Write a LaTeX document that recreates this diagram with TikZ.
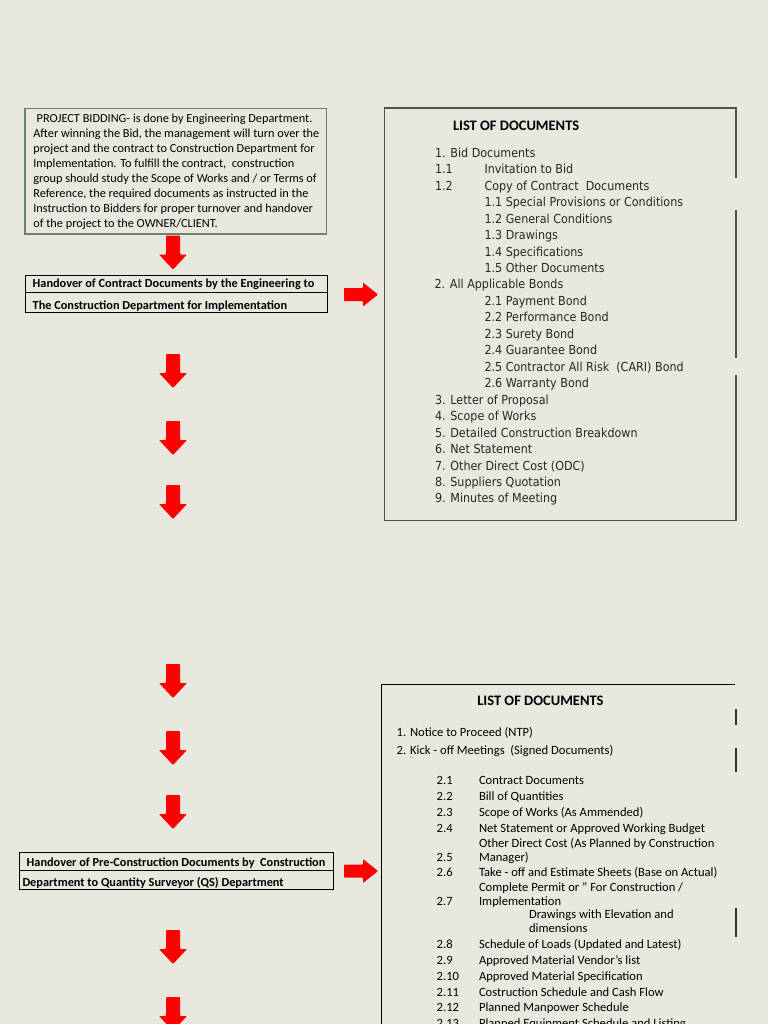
\documentclass[tikz,border=0pt]{standalone}
\usepackage{fontspec}
\setmainfont{Carlito}
\newfontfamily\tah[FakeStretch=0.9]{DejaVu Sans}
\definecolor{bgc}{RGB}{233,232,223}
\definecolor{boxgreen}{RGB}{104,132,104}
\definecolor{boxgray}{RGB}{80,80,78}
\begin{document}
\begin{tikzpicture}[x=1pt,y=-1pt,
  t/.style={anchor=base west,inner sep=0pt,outer sep=0pt},
  intro/.style={t,font=\fontsize{12.3}{14}\selectfont},
  hand/.style={t,font=\fontsize{12.3}{14}\selectfont\bfseries},
  ttl/.style={t,font=\fontsize{14.5}{16}\selectfont\bfseries},
  la/.style={t,font=\tah\fontsize{12.4}{14}\selectfont,text=black!85},
  lb/.style={t,font=\fontsize{12.6}{14}\selectfont},
  downarrow/.pic={\fill[red,rounded corners=0.8pt] (-7,0) -- (7,0) -- (7,19) -- (14,19) -- (0,34) -- (-14,19) -- (-7,19) -- cycle;},
  rightarrow/.pic={\fill[red,rounded corners=0.8pt] (0,-6.5) -- (19,-6.5) -- (19,-12) -- (34,0) -- (19,12) -- (19,6.5) -- (0,6.5) -- cycle;}
]
\useasboundingbox (0,0) rectangle (768,1024);
\fill[bgc] (0,0) rectangle (768,1024);

% ---- intro box
\draw[boxgreen,line width=1.1pt] (25,108.5) rectangle (326.7,234);
\node[intro] (p1) at (36.7,123) {PROJECT BIDDING- is done by Engineering Department.};
\node[intro] (p2) at (33.3,138) {After winning the Bid, the management will turn over the};
\node[intro] (p3) at (33.3,153) {project and the contract to Construction Department for};
\node[intro] (p4) at (33.3,168) {Implementation. To fulfill the contract,\ \ construction};
\node[intro] (p5) at (33.3,183) {group should study the Scope of Works and / or Terms of};
\node[intro] (p6) at (33.3,198) {Reference, the required documents as instructed in the};
\node[intro] (p7) at (33.3,212.7) {Instruction to Bidders for proper turnover and handover};
\node[intro] (p8) at (33.3,227.5) {of the project to the OWNER/CLIENT.};

% ---- handover box 1
\draw[black,line width=0.8pt] (25,275) rectangle (327,312.5);
\draw[black,line width=0.8pt] (25,292) -- (327,292);
\node[hand] (h1) at (32.7,287.7) {Handover of Contract Documents by the Engineering to};
\node[hand] (h2) at (32.7,309) {The Construction Department for Implementation};

% ---- list box 1
\draw[boxgray,line width=1.2pt] (736,178) -- (736,108) -- (384.5,108) -- (384.5,520.8) -- (736,520.8) -- (736,375);
\draw[boxgray,line width=1.2pt] (736,210) -- (736,358);
\node[ttl] (l1t) at (453,130.7) {LIST OF DOCUMENTS};
\foreach \i/\x/\s [count=\k] in {
  0/435/{1. Bid Documents},
  1/435/{1.1}, 1/484.5/{Invitation to Bid},
  2/435/{1.2}, 2/484.5/{Copy of Contract\ \ Documents},
  3/484.5/{1.1 Special Provisions or Conditions},
  4/484.5/{1.2 General Conditions},
  5/484.5/{1.3 Drawings},
  6/484.5/{1.4 Specifications},
  7/484.5/{1.5 Other Documents},
  8/434.5/{2. All Applicable Bonds},
  9/484.5/{2.1 Payment Bond},
  10/484.5/{2.2 Performance Bond},
  11/484.5/{2.3 Surety Bond},
  12/484.5/{2.4 Guarantee Bond},
  13/484.5/{2.5 Contractor All Risk\ \ (CARI) Bond},
  14/484.5/{2.6 Warranty Bond},
  15/435/{3. Letter of Proposal},
  16/435/{4. Scope of Works},
  17/435/{5. Detailed Construction Breakdown},
  18/435/{6. Net Statement},
  19/435/{7. Other Direct Cost (ODC)},
  20/435/{8. Suppliers Quotation},
  21/435/{9. Minutes of Meeting}}
  \node[la] (la\k) at (\x,{157.3+16.46*\i}) {\s};

% ---- handover box 2
\draw[black,line width=0.8pt] (19,852) rectangle (333,889.5);
\draw[black,line width=0.8pt] (19,870.7) -- (333,870.7);
\node[hand] (h3) at (26.7,866.7) {Handover of Pre-Construction Documents by\ \ Construction};
\node[hand] (h4) at (22.5,886) {Department to Quantity Surveyor (QS) Department};

% ---- list box 2
\draw[black,line width=1.1pt] (734.5,684.5) -- (381.5,684.5) -- (381.5,1030);
\draw[black!80,line width=1.1pt] (736,709) -- (736,725);
\draw[black!80,line width=1.1pt] (736,748) -- (736,772);
\draw[black!80,line width=1.1pt] (736,908) -- (736,937);
\node[ttl] (l2t) at (477.3,705) {LIST OF DOCUMENTS};
\node[lb] (lb1) at (396.7,736.7) {1. Notice to Proceed (NTP)};
\node[lb] (lb2) at (396.7,754.5) {2. Kick - off Meetings\ \ (Signed Documents)};
\foreach \y/\n/\s [count=\k] in {
  784/2.1/{Contract Documents},
  800/2.2/{Bill of Quantities},
  816/2.3/{Scope of Works (As Ammended)},
  832/2.4/{Net Statement or Approved Working Budget},
  861.3/2.5/{Manager)},
  876.7/2.6/{Take - off and Estimate Sheets (Base on Actual)},
  905/2.7/{Implementation},
  948.3/2.8/{Schedule of Loads (Updated and Latest)},
  964/2.9/{Approved Material Vendor's list},
  980/2.10/{Approved Material Specification},
  996/2.11/{Costruction Schedule and Cash Flow},
  1011.7/2.12/{Planned Manpower Schedule},
  1027.5/2.13/{Planned Equipment Schedule and Listing}}
{
  \node[lb] (ln\k) at (436.7,\y) {\n};
  \node[lb] (lt\k) at (479,\y) {\s};
}
\node[lb] (lx1) at (479,847.3) {Other Direct Cost (As Planned by Construction};
\node[lb] (lx2) at (479,891.7) {Complete Permit or " For Construction /};
\node[lb] (lx3) at (529,918.3) {Drawings with Elevation and};
\node[lb] (lx4) at (529,932.3) {dimensions};

% ---- arrows
\foreach \ty [count=\k] in {235.5,354,421,485,664,731,795,930,997}
  \pic (dn\k) at (173,\ty) {downarrow};
\pic (rt1) at (344,294.5) {rightarrow};
\pic (rt2) at (344,871) {rightarrow};
\end{tikzpicture}
\end{document}
